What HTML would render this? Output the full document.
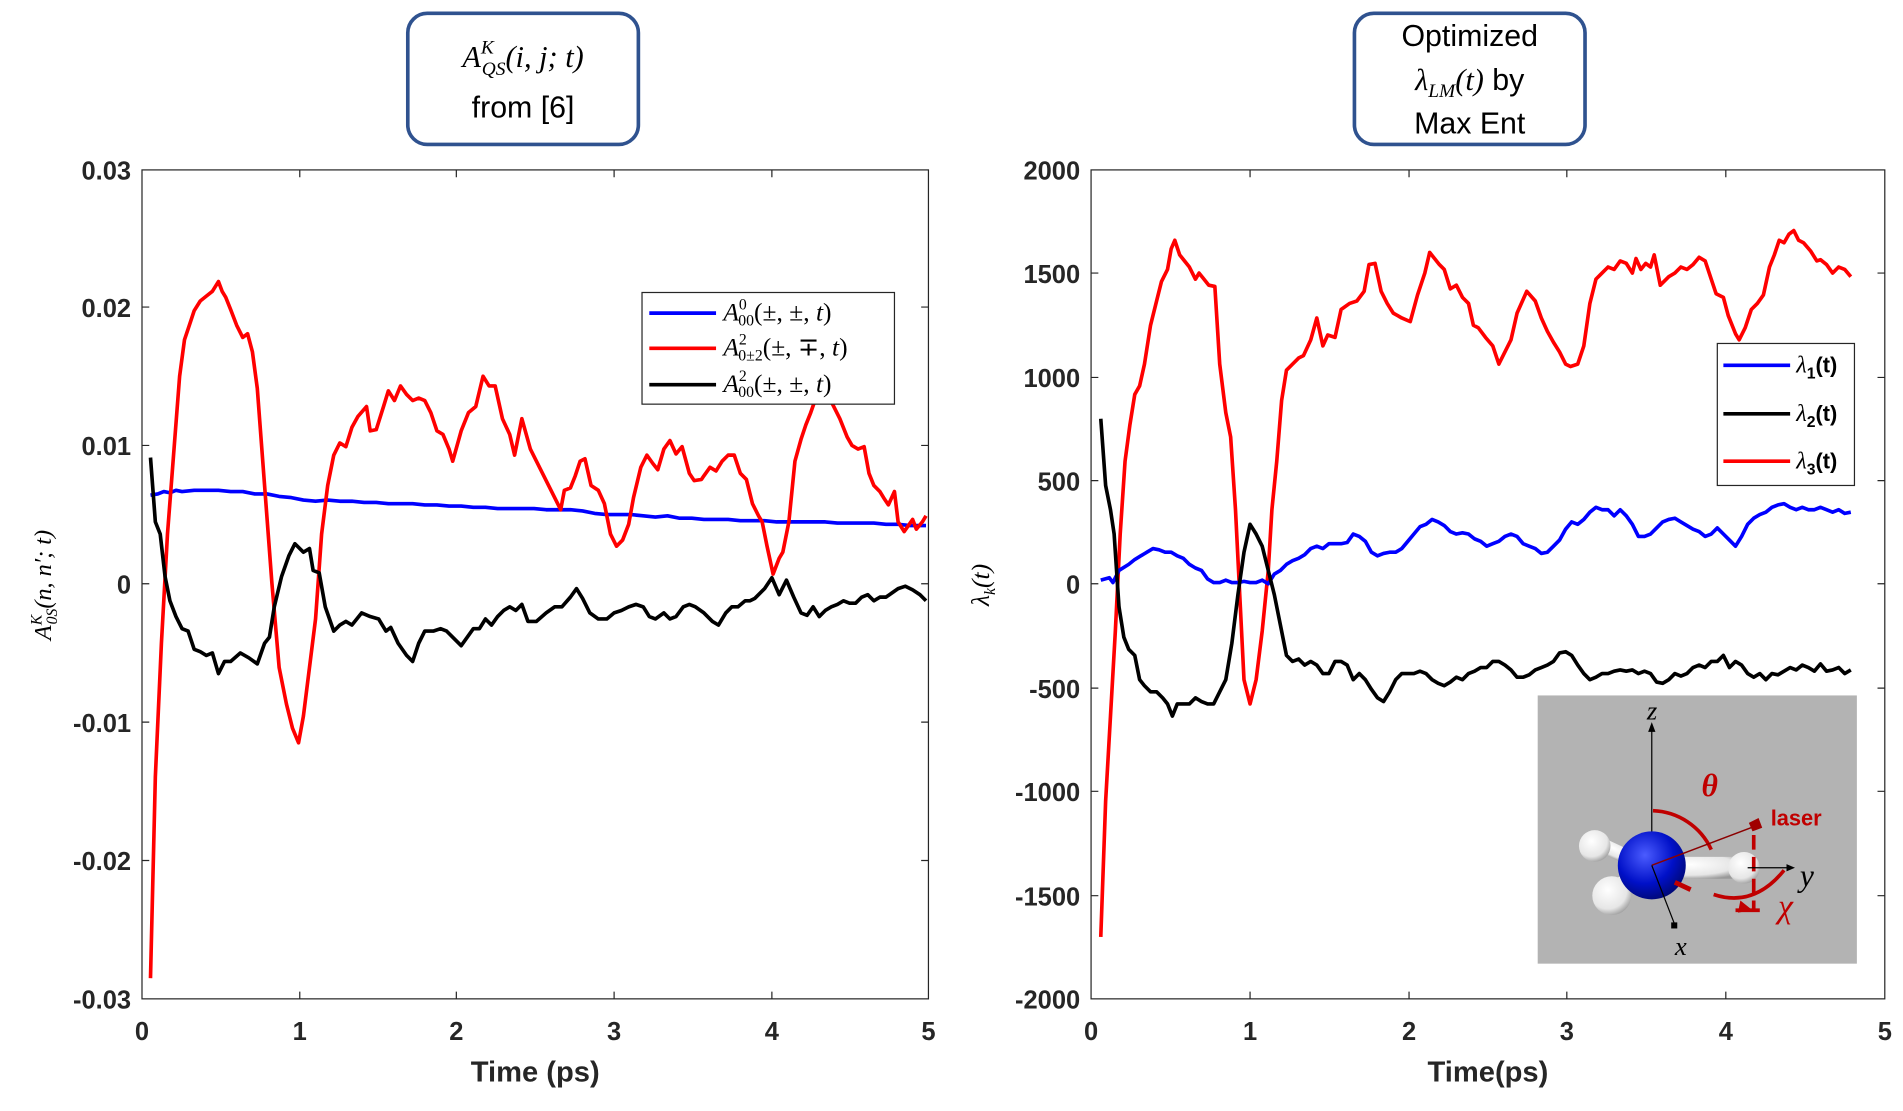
<!DOCTYPE html>
<html><head><meta charset="utf-8"><style>
html,body{margin:0;padding:0;background:#fff}
svg{display:block}
.tk{font-family:"Liberation Sans",sans-serif;font-weight:bold;font-size:21px;fill:#262626}
.xl{font-family:"Liberation Sans",sans-serif;font-weight:bold;font-size:24px;fill:#262626}
.mt{font-family:"Liberation Serif",serif;font-style:italic;fill:#000}
.bx{font-family:"Liberation Sans","DejaVu Sans",sans-serif;font-size:25px;fill:#000}
</style></head><body>
<svg width="1903" height="1111" viewBox="0 0 1568 915.4" preserveAspectRatio="none" xmlns="http://www.w3.org/2000/svg">
<rect width="1568" height="916" fill="#fff"/>
<rect x="336" y="11" width="190" height="108" rx="16" fill="#fff" stroke="#2f528f" stroke-width="3"/>
<text x="431" y="55" text-anchor="middle" class="mt" font-size="25">A<tspan font-size="16" dy="-11">K</tspan><tspan font-size="16" dx="-10" dy="18">QS</tspan><tspan dy="-7">(i, j; t)</tspan></text>
<text x="431" y="97" text-anchor="middle" class="bx">from [6]</text>
<rect x="1116" y="11" width="190" height="108" rx="16" fill="#fff" stroke="#2f528f" stroke-width="3"/>
<text x="1211" y="38" text-anchor="middle" class="bx">Optimized</text>
<text x="1211" y="74" text-anchor="middle"><tspan class="mt" font-size="25">λ</tspan><tspan class="mt" font-size="16" dy="6">LM</tspan><tspan class="mt" font-size="25" dy="-6">(t)</tspan><tspan class="bx"> by</tspan></text>
<text x="1211" y="110" text-anchor="middle" class="bx">Max Ent</text>

<g stroke="#262626" stroke-width="1" fill="none">
<rect x="117" y="140" width="648" height="683"/>
<path d="M247 823v-6M376 823v-6M506 823v-6M636 823v-6M247 140v6M376 140v6M506 140v6M636 140v6
M117 253h6M117 367h6M117 481h6M117 595h6M117 709h6M765 253h-6M765 367h-6M765 481h-6M765 595h-6M765 709h-6"/>
</g>
<g class="tk" text-anchor="end">
<text x="108" y="148">0.03</text><text x="108" y="261">0.02</text><text x="108" y="375">0.01</text>
<text x="108" y="489">0</text><text x="108" y="603">-0.01</text><text x="108" y="717">-0.02</text><text x="108" y="831">-0.03</text>
</g>
<g class="tk" text-anchor="middle">
<text x="117" y="857">0</text><text x="247" y="857">1</text><text x="376" y="857">2</text><text x="506" y="857">3</text><text x="636" y="857">4</text><text x="765" y="857">5</text>
</g>
<text x="441" y="891" text-anchor="middle" class="xl">Time (ps)</text>
<text transform="translate(42,482) rotate(-90)" text-anchor="middle" class="mt" font-size="20">A<tspan font-size="13" dy="-8">K</tspan><tspan font-size="13" dx="-8" dy="13">0S</tspan><tspan dy="-5">(n, n′; t)</tspan></text>

<g fill="none" stroke-width="3" stroke-linejoin="round">
<polyline stroke="#0000ff" points="124,408 130,407 135,405 140,406 145,404 150,405 160,404 170,404 180,404 190,405 200,405 210,407 220,407 230,409 240,410 250,412 260,413 270,412 280,413 290,413 300,414 310,414 320,415 330,415 340,415 350,416 360,416 370,417 380,417 390,418 400,418 410,419 420,419 430,419 440,419 450,420 460,420 470,420 480,421 490,423 500,424 510,424 520,424 530,425 540,426 550,425 560,427 570,427 580,428 590,428 600,428 610,429 620,429 630,429 640,430 650,430 660,430 670,430 680,430 690,431 700,431 710,431 720,431 730,432 740,432 750,433 763,433"/>
<polyline stroke="#ff0000" points="124,806 128,640 133,530 138,440 143,375 148,310 152,280 156,268 160,256 165,248 170,244 175,240 180,232 183,240 186,245 190,255 195,268 200,278 204,275 208,290 212,320 218,400 224,480 230,550 236,580 241,600 246,612 250,590 255,550 260,510 265,440 270,400 275,375 280,365 285,368 290,352 295,343 302,335 305,355 310,354 316,335 320,322 325,330 330,318 335,325 340,330 345,328 350,330 355,340 360,355 365,358 370,370 373,380 380,355 386,340 392,335 398,310 403,318 408,318 414,345 420,358 424,375 430,345 437,370 442,380 447,390 452,400 457,410 462,420 465,404 470,402 474,392 478,380 482,378 487,400 493,404 498,415 503,440 508,450 513,445 518,432 522,410 528,385 533,375 538,382 542,387 547,370 552,363 557,374 562,368 568,390 572,396 578,395 580,392 585,385 590,388 595,380 600,375 605,375 610,390 615,395 620,415 625,425 628,430 632,450 637,473 642,460 645,455 650,430 655,380 660,362 664,350 668,340 675,320 680,318 686,333 692,345 698,360 702,367 707,370 712,368 716,390 720,400 725,405 728,410 732,416 737,405 740,430 745,438 752,428 755,436 760,430 763,425"/>
<polyline stroke="#000" points="124,377 128,430 132,440 136,475 140,495 145,508 150,518 155,520 160,535 165,537 170,540 175,538 180,555 185,545 190,545 198,538 205,542 212,547 218,530 222,525 226,500 232,475 238,458 243,448 250,455 255,452 258,470 263,472 268,500 275,520 280,515 285,512 290,515 298,505 305,508 312,510 318,520 322,517 328,530 335,540 340,545 345,530 350,520 357,520 363,518 368,520 373,525 380,532 385,525 390,518 395,518 400,510 405,515 410,508 415,503 420,500 425,503 430,498 435,512 442,512 450,505 457,500 463,500 470,492 475,485 480,493 486,505 493,510 500,510 506,505 512,503 518,500 524,498 530,500 535,508 540,510 547,505 552,510 557,508 563,500 568,498 573,500 580,505 587,512 592,515 598,505 603,500 608,500 614,495 618,495 622,493 630,485 636,476 642,490 648,478 654,492 660,505 665,507 670,500 675,508 680,503 685,500 690,498 695,495 700,497 705,497 710,492 715,490 720,495 725,492 730,492 740,485 746,483 752,486 758,490 763,495"/>
</g>
<rect x="529" y="241" width="208" height="92" fill="#fff" stroke="#262626" stroke-width="1"/>
<g stroke-width="3"><line x1="535" y1="258" x2="590" y2="258" stroke="#0000ff"/><line x1="535" y1="287" x2="590" y2="287" stroke="#ff0000"/><line x1="535" y1="317" x2="590" y2="317" stroke="#000"/></g>
<g class="mt" font-size="21">
<text x="596" y="264">A<tspan font-size="13" dy="-9" font-style="normal">0</tspan><tspan font-size="13" dx="-7" dy="13" font-style="normal">00</tspan><tspan dy="-4" font-style="normal">(±, ±, </tspan>t<tspan font-style="normal">)</tspan></text>
<text x="596" y="293">A<tspan font-size="13" dy="-9" font-style="normal">2</tspan><tspan font-size="13" dx="-7" dy="13" font-style="normal">0±2</tspan><tspan dy="-4" font-style="normal">(±, ∓, </tspan>t<tspan font-style="normal">)</tspan></text>
<text x="596" y="323">A<tspan font-size="13" dy="-9" font-style="normal">2</tspan><tspan font-size="13" dx="-7" dy="13" font-style="normal">00</tspan><tspan dy="-4" font-style="normal">(±, ±, </tspan>t<tspan font-style="normal">)</tspan></text>
</g>

<g stroke="#262626" stroke-width="1" fill="none">
<rect x="899" y="140" width="654" height="683"/>
<path d="M1030 823v-6M1161 823v-6M1291 823v-6M1422 823v-6M1030 140v6M1161 140v6M1291 140v6M1422 140v6
M899 225h6M899 311h6M899 396h6M899 481h6M899 567h6M899 652h6M899 738h6M1553 225h-6M1553 311h-6M1553 396h-6M1553 481h-6M1553 567h-6M1553 652h-6M1553 738h-6"/>
</g>
<g class="tk" text-anchor="end">
<text x="890" y="148">2000</text><text x="890" y="233">1500</text><text x="890" y="319">1000</text><text x="890" y="404">500</text>
<text x="890" y="489">0</text><text x="890" y="575">-500</text><text x="890" y="660">-1000</text><text x="890" y="746">-1500</text><text x="890" y="831">-2000</text>
</g>
<g class="tk" text-anchor="middle">
<text x="899" y="857">0</text><text x="1030" y="857">1</text><text x="1161" y="857">2</text><text x="1291" y="857">3</text><text x="1422" y="857">4</text><text x="1553" y="857">5</text>
</g>
<text x="1226" y="891" text-anchor="middle" class="xl">Time(ps)</text>
<text transform="translate(815,482) rotate(-90)" text-anchor="middle" class="mt" font-size="21">λ<tspan font-size="13" dy="5">k</tspan><tspan dy="-5">(t)</tspan></text>

<g fill="none" stroke-width="3" stroke-linejoin="round">
<polyline stroke="#ff0000" points="907,772 911,660 915,590 919,520 923,440 927,380 931,350 935,325 939,318 943,300 948,268 953,248 957,232 962,222 965,205 968,198 972,210 976,215 980,220 985,230 988,225 992,230 996,235 1001,236 1005,300 1010,340 1014,360 1018,420 1022,500 1025,560 1030,580 1035,560 1040,520 1045,470 1048,420 1052,380 1056,330 1060,305 1065,300 1070,295 1074,293 1080,280 1085,262 1090,285 1094,276 1100,278 1105,255 1112,250 1118,248 1124,240 1128,218 1133,217 1138,240 1143,250 1148,258 1155,262 1162,265 1168,243 1174,225 1178,208 1182,213 1186,218 1190,222 1195,238 1200,235 1205,245 1210,250 1214,268 1218,270 1224,278 1230,285 1235,300 1240,290 1245,280 1250,258 1258,240 1265,248 1270,262 1275,273 1280,282 1285,290 1290,300 1294,302 1300,300 1305,285 1310,250 1315,230 1320,225 1325,220 1330,222 1335,215 1340,217 1345,225 1348,213 1352,222 1356,217 1360,220 1363,210 1368,235 1375,228 1380,225 1385,220 1390,222 1395,218 1400,212 1405,215 1410,230 1414,242 1420,245 1424,260 1430,275 1433,280 1438,270 1443,255 1448,250 1453,243 1458,220 1462,210 1466,198 1470,200 1474,193 1478,190 1482,198 1486,200 1492,207 1497,215 1500,214 1505,218 1510,225 1515,220 1520,222 1525,228"/>
<polyline stroke="#0000ff" points="907,478 914,476 917,480 922,470 930,465 935,461 940,458 945,455 950,452 955,453 960,455 965,455 970,458 975,460 980,465 985,468 990,470 995,477 1000,480 1005,480 1010,478 1015,480 1020,480 1025,479 1030,480 1035,480 1040,478 1045,481 1050,473 1055,470 1060,465 1065,462 1070,460 1075,457 1080,452 1085,450 1090,452 1095,448 1100,448 1105,448 1110,447 1115,440 1120,442 1125,446 1130,455 1135,458 1140,456 1145,455 1150,455 1155,452 1160,446 1165,440 1170,434 1175,432 1180,428 1185,430 1190,433 1195,438 1200,440 1205,439 1210,440 1215,444 1220,446 1225,450 1230,448 1235,446 1240,442 1245,440 1250,442 1255,448 1260,450 1265,452 1270,456 1275,455 1280,450 1285,445 1290,436 1295,430 1300,432 1305,428 1310,422 1315,418 1320,420 1325,420 1330,425 1335,420 1340,425 1345,432 1350,442 1355,442 1360,440 1365,435 1370,430 1375,428 1380,427 1385,430 1390,433 1395,436 1400,438 1405,442 1410,440 1415,435 1420,440 1425,445 1430,450 1435,442 1440,432 1445,427 1450,424 1455,422 1460,418 1465,416 1470,415 1475,418 1480,420 1485,418 1490,420 1495,420 1500,418 1505,420 1510,422 1515,420 1520,423 1525,422"/>
<polyline stroke="#000" points="907,345 911,400 915,420 918,440 922,500 926,525 930,535 935,540 939,560 943,565 948,570 953,570 958,575 962,580 966,590 970,580 975,580 980,580 985,575 990,578 995,580 1000,580 1005,570 1010,560 1015,530 1020,490 1025,455 1030,432 1035,440 1040,450 1045,470 1050,490 1055,515 1060,540 1065,545 1070,543 1075,548 1080,545 1085,548 1090,555 1095,555 1100,545 1105,545 1110,548 1115,560 1120,555 1125,560 1130,568 1135,575 1140,578 1145,570 1150,560 1155,555 1160,555 1165,555 1170,553 1175,555 1180,560 1185,563 1190,565 1195,562 1200,558 1205,560 1210,555 1215,553 1220,550 1225,550 1230,545 1235,545 1240,548 1245,552 1250,558 1255,558 1260,556 1265,552 1270,550 1275,548 1280,545 1285,538 1290,537 1295,540 1300,548 1305,555 1310,560 1315,558 1320,555 1325,555 1330,553 1335,552 1340,553 1345,552 1350,555 1355,553 1360,555 1365,562 1370,563 1375,560 1380,555 1385,557 1390,555 1395,550 1400,548 1405,550 1410,545 1415,545 1420,540 1425,550 1430,545 1435,548 1440,555 1445,558 1450,555 1455,560 1460,555 1465,556 1470,553 1475,550 1480,552 1485,548 1490,550 1495,553 1500,547 1505,553 1510,552 1515,550 1520,555 1525,552"/>
</g>
<rect x="1415" y="283" width="113" height="117" fill="#fff" stroke="#262626" stroke-width="1"/>
<g stroke-width="3"><line x1="1420" y1="301" x2="1475" y2="301" stroke="#0000ff"/><line x1="1420" y1="341" x2="1475" y2="341" stroke="#000"/><line x1="1420" y1="380" x2="1475" y2="380" stroke="#ff0000"/></g>
<g font-family="Liberation Sans,sans-serif" font-weight="bold" font-size="18" fill="#000">
<text x="1480" y="307"><tspan class="mt" font-weight="normal" font-size="20">λ</tspan><tspan font-size="13" dy="5">1</tspan><tspan dy="-5">(t)</tspan></text>
<text x="1480" y="347"><tspan class="mt" font-weight="normal" font-size="20">λ</tspan><tspan font-size="13" dy="5">2</tspan><tspan dy="-5">(t)</tspan></text>
<text x="1480" y="386"><tspan class="mt" font-weight="normal" font-size="20">λ</tspan><tspan font-size="13" dy="5">3</tspan><tspan dy="-5">(t)</tspan></text>
</g>

<rect x="1267" y="573" width="263" height="221" fill="#b3b3b3"/>
<defs>
<radialGradient id="bl" cx="0.4" cy="0.35" r="0.7"><stop offset="0" stop-color="#4b5cff"/><stop offset="0.6" stop-color="#0010c8"/><stop offset="1" stop-color="#000870"/></radialGradient>
<radialGradient id="wh" cx="0.4" cy="0.35" r="0.7"><stop offset="0" stop-color="#fff"/><stop offset="0.7" stop-color="#e6e6e6"/><stop offset="1" stop-color="#999"/></radialGradient>
</defs>
<line x1="1361" y1="715" x2="1361" y2="600" stroke="#000" stroke-width="1"/>
<path d="M1358 603l3-8 3 8z" fill="#000"/>
<text x="1357" y="593" class="mt" font-size="22">z</text>
<path d="M1362 668 A55 55 0 0 1 1410 700" fill="none" stroke="#c00000" stroke-width="3"/>
<text x="1402" y="656" font-family="Liberation Serif,serif" font-style="italic" font-weight="bold" font-size="26" fill="#c00000">θ</text>
<rect x="1312" y="696" width="40" height="12" fill="url(#wh)" transform="rotate(25 1332 702)"/>
<circle cx="1314" cy="697" r="13" fill="url(#wh)"/>
<rect x="1320" y="720" width="40" height="13" fill="url(#wh)" transform="rotate(-30 1340 726)"/>
<circle cx="1328" cy="738" r="16" fill="url(#wh)"/>
<rect x="1362" y="706" width="75" height="18" fill="url(#wh)"/>
<circle cx="1437" cy="715" r="13" fill="url(#wh)"/>
<circle cx="1361" cy="713" r="28" fill="url(#bl)"/>
<line x1="1361" y1="713" x2="1448" y2="680" stroke="#8b0000" stroke-width="1.2"/>
<path d="M1441 678l8-4 3 8-8 3z" fill="#a00000"/>
<text x="1459" y="680" font-family="Liberation Sans,sans-serif" font-weight="bold" font-size="18" fill="#c00000">laser</text>
<line x1="1445" y1="688" x2="1445" y2="750" stroke="#c00000" stroke-width="3" stroke-dasharray="12,6"/>
<line x1="1430" y1="750" x2="1450" y2="750" stroke="#c00000" stroke-width="3"/>
<line x1="1380" y1="727" x2="1393" y2="733" stroke="#c00000" stroke-width="4"/>
<path d="M1412 737 Q1445 748 1470 717" fill="none" stroke="#c00000" stroke-width="3"/>
<path d="M1434 742l10 8 -12 2z" fill="#c00000"/>
<line x1="1440" y1="715" x2="1475" y2="715" stroke="#000" stroke-width="1"/>
<path d="M1472 712l7 3-7 3z" fill="#000"/>
<text x="1483" y="730" class="mt" font-size="26">y</text>
<text x="1465" y="756" font-family="Liberation Serif,serif" font-style="italic" font-size="28" fill="#c00000">χ</text>
<line x1="1361" y1="713" x2="1380" y2="762" stroke="#000" stroke-width="1"/>
<rect x="1377" y="760" width="5" height="5" fill="#000"/>
<text x="1380" y="787" class="mt" font-size="22">x</text>
</svg>
</body></html>
